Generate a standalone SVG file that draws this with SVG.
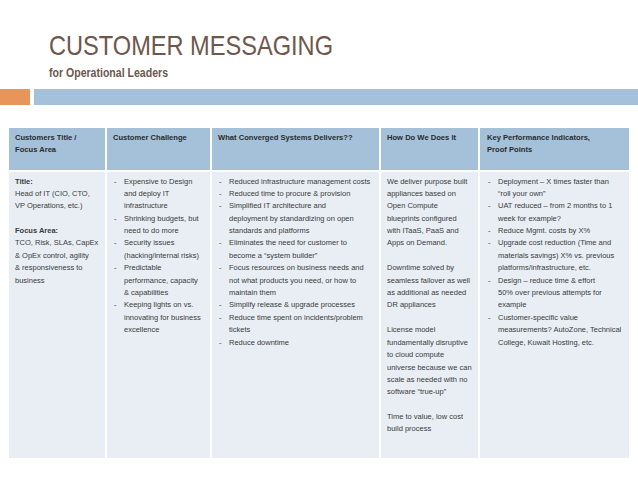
<svg xmlns="http://www.w3.org/2000/svg" width="638" height="478" viewBox="0 0 638 478">
<style>
.t{font-family:"Liberation Sans",Arial,sans-serif;font-size:7.5px;fill:#3b3b3b}
.h{font-family:"Liberation Sans",Arial,sans-serif;font-size:7.6px;font-weight:bold;fill:#2b2b2b}
.b{font-weight:bold}
.hd{fill:#a5c1d9}
.bd{fill:#e8eef4}
</style>
<rect width="638" height="478" fill="#fff"/>
<text x="49" y="55" font-family="Liberation Sans,Arial,sans-serif" font-size="28" fill="#6e574c" textLength="284" lengthAdjust="spacingAndGlyphs">CUSTOMER MESSAGING</text>
<text x="49" y="77" font-family="Liberation Sans,Arial,sans-serif" font-size="12.5" font-weight="bold" fill="#6e574c" textLength="119" lengthAdjust="spacingAndGlyphs">for Operational Leaders</text>
<rect x="0" y="89" width="30" height="16" fill="#e8955b"/>
<rect x="34" y="89" width="604" height="16" fill="#a5c1d9"/>
<g id="table">
<rect class="hd" x="9" y="128" width="96" height="42"/>
<rect class="hd" x="107" y="128" width="103" height="42"/>
<rect class="hd" x="212" y="128" width="167" height="42"/>
<rect class="hd" x="381" y="128" width="97" height="42"/>
<rect class="hd" x="480" y="128" width="149" height="42"/>
<rect class="bd" x="9" y="172" width="96" height="286"/>
<rect class="bd" x="107" y="172" width="103" height="286"/>
<rect class="bd" x="212" y="172" width="167" height="286"/>
<rect class="bd" x="381" y="172" width="97" height="286"/>
<rect class="bd" x="480" y="172" width="149" height="286"/>
</g>
<g id="header" class="h">
<text x="15" y="140">Customers Title /</text><text x="15" y="152">Focus Area</text>
<text x="113" y="140">Customer Challenge</text>
<text x="218" y="140">What Converged Systems Delivers??</text>
<text x="387" y="140">How Do We Does It</text>
<text x="487" y="140">Key Performance Indicators,</text><text x="487" y="152">Proof Points</text>
</g>
<g id="col1" class="t">
<text x="15" y="184" class="b">Title:</text>
<text x="15" y="196">Head of IT (CIO, CTO,</text>
<text x="15" y="208">VP Operations, etc.)</text>
<text x="15" y="233" class="b">Focus Area:</text>
<text x="15" y="245">TCO, Risk, SLAs, CapEx</text>
<text x="15" y="258">&amp; OpEx control, agility</text>
<text x="15" y="270">&amp; responsiveness to</text>
<text x="15" y="283">business</text>
</g>
<g id="col2" class="t">
<text x="114" y="184">-</text><text x="124" y="184">Expensive to Design</text>
<text x="124" y="196">and deploy IT</text>
<text x="124" y="208">infrastructure</text>
<text x="114" y="221">-</text><text x="124" y="221">Shrinking budgets, but</text>
<text x="124" y="233">need to do more</text>
<text x="114" y="245">-</text><text x="124" y="245">Security issues</text>
<text x="124" y="258">(hacking/internal risks)</text>
<text x="114" y="270">-</text><text x="124" y="270">Predictable</text>
<text x="124" y="283">performance, capacity</text>
<text x="124" y="295">&amp; capabilities</text>
<text x="114" y="307">-</text><text x="124" y="307">Keeping lights on vs.</text>
<text x="124" y="320">innovating for business</text>
<text x="124" y="332">excellence</text>
</g>
<g id="col3" class="t">
<text x="219" y="184">-</text><text x="229" y="184">Reduced infrastructure management costs</text>
<text x="219" y="196">-</text><text x="229" y="196">Reduced time to procure &amp; provision</text>
<text x="219" y="208">-</text><text x="229" y="208">Simplified IT architecture and</text>
<text x="229" y="221">deployment by standardizing on open</text>
<text x="229" y="233">standards and platforms</text>
<text x="219" y="245">-</text><text x="229" y="245">Eliminates the need for customer to</text>
<text x="229" y="258">become a “system builder”</text>
<text x="219" y="270">-</text><text x="229" y="270">Focus resources on business needs and</text>
<text x="229" y="283">not what products you need, or how to</text>
<text x="229" y="295">maintain them</text>
<text x="219" y="307">-</text><text x="229" y="307">Simplify release &amp; upgrade processes</text>
<text x="219" y="320">-</text><text x="229" y="320">Reduce time spent on incidents/problem</text>
<text x="229" y="332">tickets</text>
<text x="219" y="345">-</text><text x="229" y="345">Reduce downtime</text>
</g>
<g id="col4" class="t">
<text x="387" y="184">We deliver purpose built</text>
<text x="387" y="196">appliances based on</text>
<text x="387" y="208">Open Compute</text>
<text x="387" y="221">blueprints configured</text>
<text x="387" y="233">with ITaaS, PaaS and</text>
<text x="387" y="245">Apps on Demand.</text>
<text x="387" y="270">Downtime solved by</text>
<text x="387" y="283">seamless failover as well</text>
<text x="387" y="295">as additional as needed</text>
<text x="387" y="307">DR appliances</text>
<text x="387" y="332">License model</text>
<text x="387" y="345">fundamentally disruptive</text>
<text x="387" y="357">to cloud compute</text>
<text x="387" y="370">universe because we can</text>
<text x="387" y="382">scale as needed with no</text>
<text x="387" y="394">software “true-up”</text>
<text x="387" y="419">Time to value, low cost</text>
<text x="387" y="431">build process</text>
</g>
<g id="col5" class="t">
<text x="488" y="184">-</text><text x="498" y="184">Deployment – X times faster than</text>
<text x="498" y="196">“roll your own”</text>
<text x="488" y="208">-</text><text x="498" y="208">UAT reduced – from 2 months to 1</text>
<text x="498" y="221">week for example?</text>
<text x="488" y="233">-</text><text x="498" y="233">Reduce Mgmt. costs by X%</text>
<text x="488" y="245">-</text><text x="498" y="245">Upgrade cost reduction (Time and</text>
<text x="498" y="258">materials savings) X% vs. previous</text>
<text x="498" y="270">platforms/infrastructure, etc.</text>
<text x="488" y="283">-</text><text x="498" y="283">Design – reduce time &amp; effort</text>
<text x="498" y="295">50% over previous attempts for</text>
<text x="498" y="307">example</text>
<text x="488" y="320">-</text><text x="498" y="320">Customer-specific value</text>
<text x="498" y="332">measurements? AutoZone, Technical</text>
<text x="498" y="345">College, Kuwait Hosting, etc.</text>
</g>
</svg>
